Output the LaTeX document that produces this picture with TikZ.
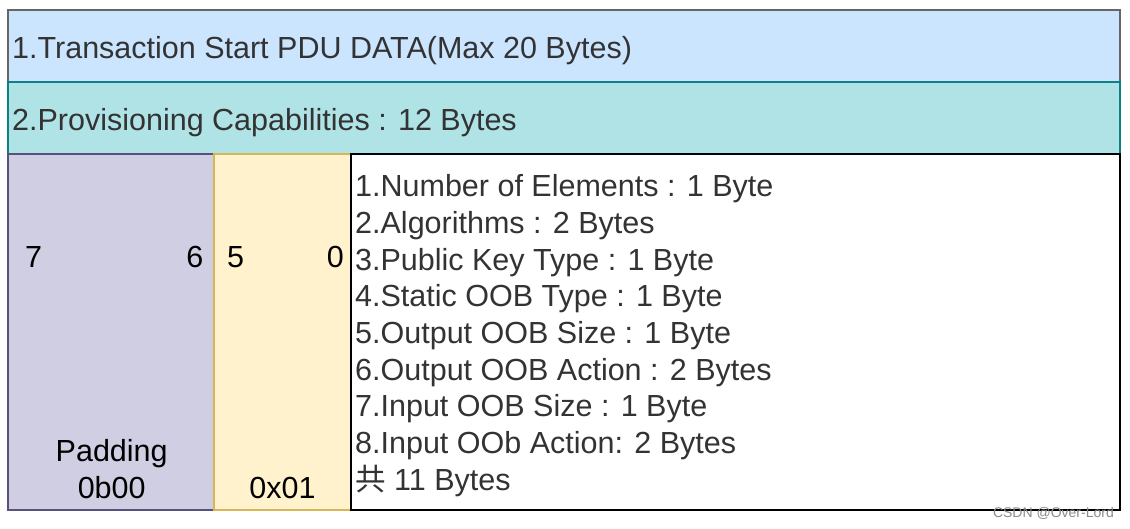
\documentclass[tikz,border=0pt]{standalone}
\usepackage{fontspec}
\setmainfont{Liberation Sans}
\newfontfamily\cjkfont{Noto Sans CJK SC}
\definecolor{blueFill}{HTML}{CCE5FF}
\definecolor{blueLine}{HTML}{666666}
\definecolor{tealFill}{HTML}{B0E3E6}
\definecolor{tealLine}{HTML}{0E8088}
\definecolor{purpFill}{HTML}{D0CEE2}
\definecolor{purpLine}{HTML}{56517E}
\definecolor{yelFill}{HTML}{FFF2CC}
\definecolor{yelLine}{HTML}{D6B656}
\definecolor{txtGray}{HTML}{333333}
\definecolor{wmGray}{HTML}{8A8A8A}
\tikzset{
  boxline/.style={line width=1.6pt},
  bigtxt/.style={inner sep=0pt, font=\fontsize{30.5}{36.7}\selectfont},
  graytxt/.style={bigtxt, text=txtGray},
  blacktxt/.style={bigtxt, text=black},
}
\begin{document}
\begin{tikzpicture}[x=1pt, y=-1pt]
\useasboundingbox (0,0) rectangle (1130,528);
\fill[white] (0,0) rectangle (1130,528);
% boxes
\path[boxline, fill=blueFill, draw=blueLine] (8,10) rectangle (1120,82);
\path[boxline, fill=tealFill, draw=tealLine] (8,82) rectangle (1120,154);
\path[boxline, fill=purpFill, draw=purpLine] (8,154) rectangle (214,510);
\path[boxline, fill=yelFill, draw=yelLine] (214,154) rectangle (351,510);
\path[line width=2pt, fill=white, draw=black] (351,154) rectangle (1120,510);
% titles
\node[graytxt, anchor=base west] (t1) at (12,58) {1.Transaction Start PDU DATA(Max 20 Bytes)};
\node[graytxt, anchor=base west] (t2) at (12,130) {2.Provisioning Capabilities : 12 Bytes};
% bit numbers
\node[blacktxt, anchor=base west] (b7) at (25,267.3) {7};
\node[blacktxt, anchor=base east] (b6) at (203.6,267.3) {6};
\node[blacktxt, anchor=base west] (b5) at (227,267.3) {5};
\node[blacktxt, anchor=base east] (b0) at (344,267.3) {0};
\node[blacktxt, anchor=base] (pad) at (111.7,461.7) {Padding};
\node[blacktxt, anchor=base] (padv) at (111.7,498.3) {0b00};
\node[blacktxt, anchor=base] (val) at (282.5,498.3) {0x01};
% list
\node[graytxt, anchor=base west] (l1) at (355,196.7) {1.Number of Elements : 1 Byte};
\node[graytxt, anchor=base west] (l2) at (355,233.3) {2.Algorithms : 2 Bytes};
\node[graytxt, anchor=base west] (l3) at (355,270) {3.Public Key Type : 1 Byte};
\node[graytxt, anchor=base west] (l4) at (355,306.7) {4.Static OOB Type : 1 Byte};
\node[graytxt, anchor=base west] (l5) at (355,343.3) {5.Output OOB Size : 1 Byte};
\node[graytxt, anchor=base west] (l6) at (355,380) {6.Output OOB Action : 2 Bytes};
\node[graytxt, anchor=base west] (l7) at (355,416.7) {7.Input OOB Size : 1 Byte};
\node[graytxt, anchor=base west] (l8) at (355,453.3) {8.Input OOb Action: 2 Bytes};
\node[graytxt, anchor=base west] (l9) at (355,490.7) {{\cjkfont 共} 11 Bytes};
% watermark
\node[inner sep=0pt, anchor=base east, text=wmGray, font=\fontsize{14}{16}\selectfont] (wm) at (1114,517.5) {CSDN @Over-Lord};
\end{tikzpicture}
\end{document}
